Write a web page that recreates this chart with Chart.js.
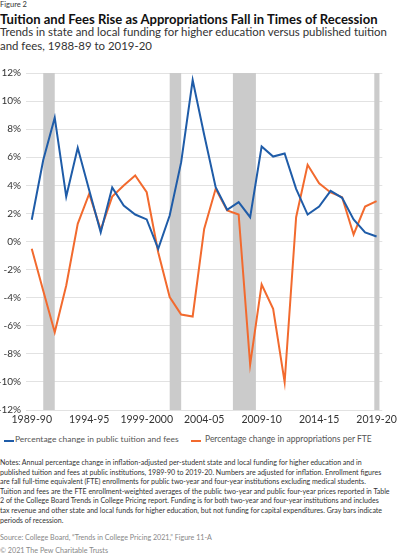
<!DOCTYPE html>
<html><head><meta charset="utf-8">
<script src="https://cdn.jsdelivr.net/npm/chart.js@4"></script>
<style>
body{margin:0;width:400px;height:554px;background:#fff;font-family:Lato,"Noto Sans",sans-serif;color:#222;position:relative;overflow:hidden}
.t{position:absolute;left:0;white-space:nowrap}
.f{display:inline-block;white-space:nowrap}
#fig{top:0px;font-size:9px;color:#333}
#title{top:11px;font-size:15px;font-weight:bold;color:#111}
#sub{top:25px;font-size:12.3px;line-height:14px;color:#333}
#cw{position:absolute;left:0;top:62px;width:400px;height:366px}
#legend{top:434px;font-size:10px;color:#555;width:400px}
.sw{position:absolute;width:10px;height:2px;top:6px}
#notes{top:458px;font-size:7.2px;line-height:9.6px;color:#333}
#src{top:533px;font-size:7.4px;color:#888}
#copy{top:546px;font-size:7.4px;color:#888}
</style></head><body>
<div class="t" id="fig"><span class="f" data-w="27">Figure 2</span></div>
<div class="t" id="title"><span class="f" data-w="378">Tuition and Fees Rise as Appropriations Fall in Times of Recession</span></div>
<div class="t" id="sub"><span class="f" data-w="387">Trends in state and local funding for higher education versus published tuition</span><br><span class="f">and fees, 1988-89 to 2019-20</span></div>
<div id="cw"><canvas id="c"></canvas></div>
<div class="t" id="legend">
<span class="sw" style="left:4px;background:#1f5ca8"></span><span class="f" style="position:absolute;left:15px" data-w="164">Percentage change in public tuition and fees</span>
<span class="sw" style="left:191px;background:#f26a2e"></span><span class="f" style="position:absolute;left:205px" data-w="167">Percentage change in appropriations per FTE</span>
</div>
<div class="t" id="notes"><span class="f">Notes: Annual percentage change in inflation-adjusted per-student state and local funding for higher education and in</span><br><span class="f" data-w="381">published tuition and fees at public institutions, 1989-90 to 2019-20. Numbers are adjusted for inflation. Enrollment figures</span><br><span class="f">are fall full-time equivalent (FTE) enrollments for public two-year and four-year institutions excluding medical students.</span><br><span class="f">Tuition and fees are the FTE enrollment-weighted averages of the public two-year and public four-year prices reported in Table</span><br><span class="f">2 of the College Board Trends in College Pricing report. Funding is for both two-year and four-year institutions and includes</span><br><span class="f">tax revenue and other state and local funds for higher education, but not funding for capital expenditures. Gray bars indicate</span><br><span class="f">periods of recession.</span></div>
<div class="t" id="src"><span class="f" data-w="212">Source: College Board, “Trends in College Pricing 2021,” Figure 11-A</span></div>
<div class="t" id="copy"><span class="f" data-w="108">© 2021 The Pew Charitable Trusts</span></div>
<script>
// fit text widths to the reference layout by adjusting font size of the containing block
document.querySelectorAll('[data-w]').forEach(el=>{
  const target = +el.dataset.w;
  const host = el.closest('.t');
  const cont = (host.id==='legend') ? el : host;
  const fs = parseFloat(getComputedStyle(cont).fontSize);
  const w = el.getBoundingClientRect().width;
  if (w>0) cont.style.fontSize = (fs*target/w).toFixed(3)+'px';
});

const years = ["1989-90","1990-91","1991-92","1992-93","1993-94","1994-95","1995-96","1996-97","1997-98","1998-99","1999-2000","2000-01","2001-02","2002-03","2003-04","2004-05","2005-06","2006-07","2007-08","2008-09","2009-10","2010-11","2011-12","2012-13","2013-14","2014-15","2015-16","2016-17","2017-18","2018-19","2019-20"];
const tuitionChange = [1.55,5.8,8.82,3.2,6.67,3.65,0.66,3.85,2.56,1.92,1.57,-0.52,1.85,5.65,11.5,7.6,3.87,2.26,2.8,1.73,6.77,6.05,6.27,3.75,1.92,2.49,3.61,3.11,1.57,0.64,0.36];
const appropriationsChange = [-0.52,-3.5,-6.46,-3.13,1.26,3.4,0.83,3.2,3.99,4.7,3.51,-0.76,-3.96,-5.2,-5.34,0.9,3.75,2.21,1.92,-8.76,-3.06,-4.8,-10.02,1.73,5.46,4.15,3.49,3.16,0.5,2.49,2.87];
const recessionStart = [1,12,17.5,29.8];
const recessionEnd = [2,13,19.5,30.25];
const yTicks = [-12,-10,-8,-6,-4,-2,0,2,4,6,8,10,12];
const xTickEvery = 5;

const recessionPlugin = {
  id:'recessions',
  beforeDatasetsDraw(chart){
    const {ctx, chartArea:a, scales:{x}} = chart;
    ctx.save();
    ctx.fillStyle = '#cbcbcb';
    recessionStart.forEach((s,i)=>{
      const x0 = x.getPixelForValue(s), x1 = x.getPixelForValue(recessionEnd[i]);
      ctx.fillRect(x0, a.top, x1-x0, a.bottom-a.top);
    });
    ctx.restore();
  }
};

new Chart(document.getElementById('c'), {
  type:'line',
  data:{labels:years,datasets:[
    {label:'Percentage change in public tuition and fees',data:tuitionChange,borderColor:'#1f5ca8',backgroundColor:'#1f5ca8',borderWidth:2,pointRadius:0,tension:0},
    {label:'Percentage change in appropriations per FTE',data:appropriationsChange,borderColor:'#f26a2e',backgroundColor:'#f26a2e',borderWidth:2,pointRadius:0,tension:0}
  ]},
  options:{
    responsive:true,maintainAspectRatio:false,animation:false,
    layout:{padding:{top:11,right:12,left:0,bottom:0}},
    plugins:{legend:{display:false},tooltip:{enabled:false}},
    scales:{
      x:{offset:true,
        grid:{display:false,drawTicks:false},border:{display:false},
        afterFit(s){s.height=18;},
        ticks:{autoSkip:false,maxRotation:0,padding:3,color:'#333',font:{family:'Lato',size:10.5},
          callback(v,i){return i%xTickEvery===0?years[i]:null;}}
      },
      y:{min:-12,max:12,
        afterBuildTicks(s){s.ticks=yTicks.map(v=>({value:v}));},
        afterFit(s){s.width=26;},
        grid:{color:'#e2e2e2',lineWidth:1,drawTicks:false},border:{display:false},
        ticks:{padding:5,color:'#333',font:{family:'Lato',size:10},callback:v=>v+'%'}
      }
    }
  },
  plugins:[recessionPlugin]
});
</script>
</body></html>
